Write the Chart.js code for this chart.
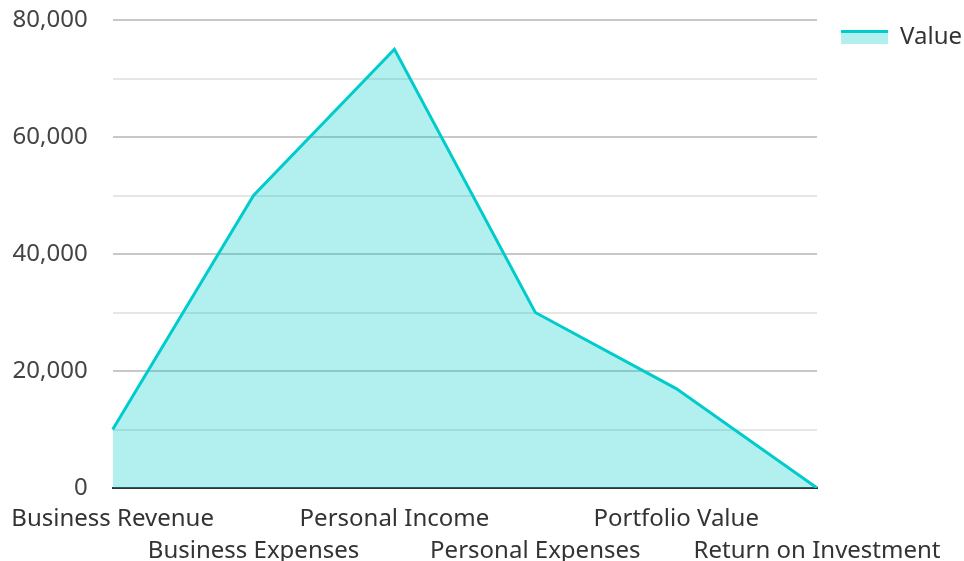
<!DOCTYPE html>
<html>
<head>
<meta charset="utf-8">
<script src="https://cdn.jsdelivr.net/npm/chart.js@4"></script>
<style>
html,body{margin:0;padding:0;background:#fff;}
#wrap{width:964px;height:561px;position:relative;}
</style>
</head>
<body>
<div id="wrap"><canvas id="c" width="964" height="561"></canvas></div>
<script>
const categories = ["Business Revenue","Business Expenses","Personal Income","Personal Expenses","Portfolio Value","Return on Investment"];
const values = [10000, 50000, 75000, 30000, 17000, 0];
const seriesName = "Value";
const yMax = 80000;
const yStep = 10000;
const yLabelStep = 20000;

const lineColor = 'rgb(0,204,204)';
const fillColor = 'rgba(0,204,204,0.3)';
const clear = 'rgba(0,0,0,0)';

const legendLinePlugin = {
  id: 'legendLine',
  afterDraw(chart) {
    const lg = chart.legend;
    if (!lg || !lg.legendHitBoxes) return;
    const ctx = chart.ctx;
    ctx.save();
    lg.legendHitBoxes.forEach(b => {
      const boxTop = b.top + (b.height - 14) / 2;
      ctx.fillStyle = lineColor;
      ctx.fillRect(b.left, boxTop, 47, 3);
    });
    ctx.restore();
  }
};

new Chart(document.getElementById('c'), {
  type: 'line',
  data: {
    labels: categories,
    datasets: [{
      label: seriesName,
      data: values,
      borderColor: lineColor,
      backgroundColor: fillColor,
      borderWidth: 3,
      fill: 'origin',
      tension: 0,
      pointRadius: 0,
      pointHoverRadius: 0
    }]
  },
  options: {
    responsive: false,
    animation: false,
    layout: { padding: { top: -11, right: -8, left: 7, bottom: -6 } },
    plugins: {
      legend: {
        position: 'right',
        align: 'start',
        title: { display: true, text: ' ', padding: 0, font: { family: 'Noto Sans', size: 10 } },
        labels: {
          boxWidth: 47,
          boxHeight: 14,
          padding: 24,
          color: '#333',
          font: { family: 'Noto Sans', size: 24 },
          generateLabels(chart) {
            return [{
              text: seriesName,
              fillStyle: fillColor,
              strokeStyle: clear,
              lineWidth: 0,
              fontColor: '#333',
              datasetIndex: 0
            }];
          }
        }
      },
      tooltip: { enabled: false }
    },
    scales: {
      x: {
        offset: false,
        grid: { display: true, color: clear, drawTicks: true, tickLength: 15, tickColor: clear },
        border: { display: true, color: '#333', width: 2 },
        ticks: {
          autoSkip: false,
          maxRotation: 0,
          minRotation: 0,
          padding: 0,
          color: '#333',
          font: { family: 'Noto Sans', size: 24, lineHeight: 1.333 },
          callback(v, i) { return i % 2 ? ['', categories[i]] : categories[i]; }
        }
      },
      y: {
        min: 0,
        max: yMax,
        border: { display: false },
        grid: {
          drawTicks: true,
          tickLength: 19.4,
          tickColor: clear,
          color(ctx) {
            const v = ctx.tick.value;
            if (v === 0) return clear;
            return v % yLabelStep === 0 ? '#c8c8c8' : '#e6e6e6';
          },
          lineWidth: 2
        },
        ticks: {
          stepSize: yStep,
          padding: 5.6,
          color: '#444',
          font: { family: 'Noto Sans', size: 24 },
          callback(v) { return v % yLabelStep === 0 ? v.toLocaleString('en-US') : ''; }
        }
      }
    }
  },
  plugins: [legendLinePlugin]
});
</script>
</body>
</html>
